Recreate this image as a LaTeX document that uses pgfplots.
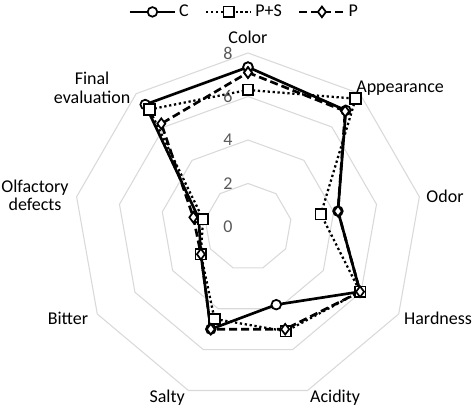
\documentclass[border=0pt]{standalone}
\usepackage{pgfplots}
\pgfplotsset{compat=1.18}
\usepgfplotslibrary{polar}
\usepackage{fontspec}
\setmainfont{Carlito}

\definecolor{gridgray}{HTML}{D9D9D9}
\definecolor{ticktext}{HTML}{595959}

\begin{document}
\begin{tikzpicture}[font=\fontsize{13.5}{15}\selectfont]
\begin{polaraxis}[
    width=261pt, height=261pt, scale only axis,
    ymin=0, ymax=8,
    hide axis,
    clip=false,
    legend style={
        at={(0.49,1.118)}, anchor=center,
        draw=none, fill=none,
        legend columns=-1,
        font=\fontsize{13.5}{15}\selectfont,
        /tikz/every even column/.append style={column sep=10pt}
    },
    legend image code/.code={
        \draw[mark repeat=2,mark phase=2,#1]
            plot coordinates {(0cm,0cm) (0.6cm,0cm) (1.2cm,0cm)};
    },
]
% grid rings
\addplot[gridgray, line width=0.8pt, forget plot] coordinates {
  (90,2)(50,2)(10,2)(-30,2)(-70,2)(-110,2)(-150,2)(-190,2)(-230,2)(-270,2)};
\addplot[gridgray, line width=0.8pt, forget plot] coordinates {
  (90,4)(50,4)(10,4)(-30,4)(-70,4)(-110,4)(-150,4)(-190,4)(-230,4)(-270,4)};
\addplot[gridgray, line width=0.8pt, forget plot] coordinates {
  (90,6)(50,6)(10,6)(-30,6)(-70,6)(-110,6)(-150,6)(-190,6)(-230,6)(-270,6)};
\addplot[gridgray, line width=0.8pt, forget plot] coordinates {
  (90,8)(50,8)(10,8)(-30,8)(-70,8)(-110,8)(-150,8)(-190,8)(-230,8)(-270,8)};

% C
\addplot[black, line width=2pt, mark=*, mark size=3.6pt,
         mark options={solid, fill=white, line width=1.3pt}] coordinates {
  (90,7.35)(50,7.0)(10,4.2)(-30,5.95)(-70,3.8)(-110,5.0)(-150,2.5)(-190,2.3)(-230,7.35)(-270,7.35)};
% P+S
\addplot[black, line width=1.7pt, dotted, mark=square*, mark size=4pt,
         mark options={solid, fill=white, line width=1.3pt}] coordinates {
  (90,6.3)(50,7.7)(10,3.4)(-30,5.95)(-70,5.1)(-110,4.5)(-150,2.5)(-190,2.1)(-230,7.05)(-270,6.3)};
% P
\addplot[black, line width=2pt, dash pattern=on 6pt off 3pt, mark=diamond*, mark size=4pt,
         mark options={solid, fill=white, line width=1.3pt}] coordinates {
  (90,7.1)(50,6.95)(10,4.2)(-30,5.95)(-70,5.0)(-110,5.0)(-150,2.5)(-190,2.55)(-230,6.2)(-270,7.1)};
\legend{C, P+S, P}

% scale numbers
\node[text=ticktext, xshift=-15pt] at (axis cs:90,0) {0};
\node[text=ticktext, xshift=-15pt] at (axis cs:90,2) {2};
\node[text=ticktext, xshift=-15pt] at (axis cs:90,4) {4};
\node[text=ticktext, xshift=-15pt] at (axis cs:90,6) {6};
\node[text=ticktext, xshift=-15pt] at (axis cs:90,8) {8};

% category names
\node at (axis cs:90,8.74) {Color};
\node at (axis cs:42.4,9.47) {Appearance};
\node at (axis cs:8.9,9.17) {Odor};
\node at (axis cs:-25.6,9.69) {Hardness};
\node at (axis cs:-63,8.82) {Acidity};
\node at (axis cs:-115.3,8.7) {Salty};
\node at (axis cs:-153.2,9.27) {Bitter};
\node[align=center, inner sep=0pt] at (axis cs:171.5,9.9) {Olfactory\\[-1pt]defects};
\node[align=center, inner sep=0pt] at (axis cs:138.3,9.6) {Final\\[-1pt]evaluation};

\coordinate (tl) at (axis cs:137.53,15.457);
\coordinate (br) at (axis cs:-38.69,13.313);
\end{polaraxis}
\pgfresetboundingbox
\useasboundingbox (tl) rectangle (br);
\end{tikzpicture}
\end{document}
